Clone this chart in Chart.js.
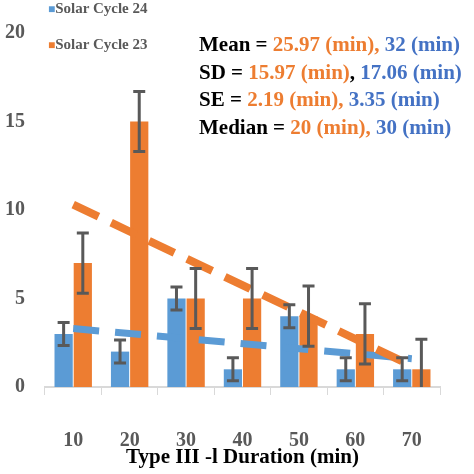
<!DOCTYPE html>
<html><head><meta charset="utf-8">
<script src="https://cdn.jsdelivr.net/npm/chart.js@4"></script>
<style>
body{margin:0;width:474px;height:474px;overflow:hidden;position:relative;background:#fff;font-family:"Times New Roman","Liberation Serif","DejaVu Serif",serif;font-weight:bold}
.t{position:absolute;white-space:nowrap}
.o{color:#ed7d31}.b{color:#4472c4}
</style></head><body>
<canvas id="c" width="474" height="474"></canvas>
<div class="t" style="left:48px;top:0px;font-size:15px;color:#595959"><span style="color:#5b9bd5;font-size:12px">■</span>Solar Cycle 24</div>
<div class="t" style="left:48px;top:36px;font-size:15px;color:#595959"><span style="color:#ed7d31;font-size:12px">■</span>Solar Cycle 23</div>
<div class="t" style="left:199px;top:31px;font-size:21px;line-height:27.5px;color:#000">
Mean = <span class="o">25.97 (min),</span> <span class="b">32 (min)</span><br>
SD = <span class="o">15.97 (min)</span>, <span class="b">17.06 (min)</span><br>
SE = <span class="o">2.19 (min),</span> <span class="b">3.35 (min)</span><br>
Median = <span class="o">20 (min),</span> <span class="b">30 (min)</span>
</div>
<script>
const categories=["10","20","30","40","50","60","70"];
const cycle24=[3,2,5,1,4,1,1];
const cycle23=[7,15,5,5,4,3,1];
const err24=[0.65,0.65,0.65,0.65,0.65,0.65,0.65];
const err23=[1.7,1.7,1.7,1.7,1.7,1.7,1.7];
const trend24=[3.3,null,null,null,null,null,1.6];
const trend23=[10.3,null,null,null,null,null,1.2];
const yTicks=[0,5,10,15,20];
const FF='"Times New Roman","Liberation Serif","DejaVu Serif",serif';

const errPlugin={id:'err',afterDatasetsDraw(ch){
  const ctx=ch.ctx,y=ch.scales.y;
  [[0,err24],[1,err23]].forEach(([di,e])=>{
    const meta=ch.getDatasetMeta(di);
    meta.data.forEach((bar,i)=>{
      const v=ch.data.datasets[di].data[i];
      const t=y.getPixelForValue(v+e[i]),b=Math.min(y.getPixelForValue(Math.max(v-e[i],0)),y.getPixelForValue(0));
      ctx.save();ctx.strokeStyle='#595959';ctx.lineWidth=3;ctx.beginPath();
      ctx.moveTo(bar.x,t);ctx.lineTo(bar.x,b);
      ctx.moveTo(bar.x-6,t);ctx.lineTo(bar.x+6,t);
      if(v-e[i]>0){ctx.moveTo(bar.x-6,b);ctx.lineTo(bar.x+6,b);}
      ctx.stroke();ctx.restore();
    });
  });
}};

new Chart(document.getElementById('c'),{
  data:{labels:categories,datasets:[
    {type:'bar',label:'Solar Cycle 24',data:cycle24,backgroundColor:'#5b9bd5',categoryPercentage:0.68,barPercentage:0.95,order:2},
    {type:'bar',label:'Solar Cycle 23',data:cycle23,backgroundColor:'#ed7d31',categoryPercentage:0.68,barPercentage:0.95,order:2},
    {type:'line',data:trend24,spanGaps:true,borderColor:'#5b9bd5',borderWidth:7,borderDash:[26,16],pointRadius:0,order:1},
    {type:'line',data:trend23,spanGaps:true,borderColor:'#ed7d31',borderWidth:8,borderDash:[28,14],pointRadius:0,order:0}
  ]},
  options:{responsive:false,animation:false,
    layout:{padding:{top:33,right:34,left:0,bottom:0}},
    plugins:{legend:{display:false},tooltip:{enabled:false}},
    scales:{
      x:{offset:true,grid:{display:true,drawOnChartArea:false,tickLength:8,color:'#d9d9d9',offset:true},
        border:{color:'#d9d9d9',width:2},
        ticks:{color:'#595959',font:{family:FF,size:20,weight:'bold'},padding:34},
        title:{display:true,text:'Type III -l Duration (min)',color:'#000',font:{family:FF,size:21,weight:'bold'},padding:{top:10}},
        afterFit(s){s.height=87;}},
      y:{min:0,max:20,afterBuildTicks(s){s.ticks=yTicks.map(v=>({value:v}));},
        grid:{display:false},border:{display:false},
        ticks:{color:'#595959',font:{family:FF,size:20,weight:'bold'},padding:12},
        afterFit(s){s.width=45;}}
    }
  },
  plugins:[errPlugin]
});
</script></body></html>
